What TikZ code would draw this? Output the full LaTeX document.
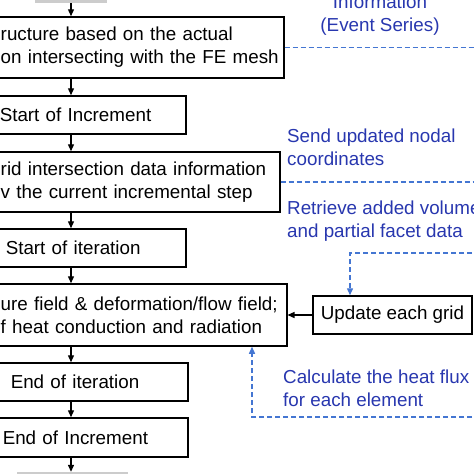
\documentclass[tikz,border=0pt]{standalone}
\usepackage{fontspec}
\setmainfont{Liberation Sans}
\usetikzlibrary{positioning, arrows.meta}
\definecolor{infoblue}{RGB}{40,55,175}
\definecolor{dashblue}{RGB}{68,118,210}
\newcommand\flowfont{\fontsize{18.8}{22.8}\selectfont}

\begin{document}
\begin{tikzpicture}[x=1pt, y=-1pt,
    every node/.style={font=\flowfont},
    box/.style={rectangle, draw, line width=1.5pt, anchor=west, align=left, inner xsep=8pt, inner ysep=2pt},
    grey/.style={rectangle, fill=black!20, inner sep=0pt},
    note/.style={text=infoblue, align=left, anchor=west, inner sep=0pt},
    flow/.style={-{Triangle[length=7pt, width=6pt]}, line width=1.3pt},
    link/.style={dashblue, line width=1.4pt, dash pattern=on 5pt off 3pt},
    linkarrow/.style={link, -{Triangle[length=7pt, width=6pt]}}]

  \useasboundingbox (0,0) rectangle (474,474);
  \fill[white] (0,0) rectangle (474,474);
  \clip (0,0) rectangle (474,474);

  % main loop, cut off at the left
  \node[grey, minimum width=72pt, minimum height=23pt] (topg) at (71,-8.5) {};
  \node[box, text width=275pt, minimum height=61pt] (b1) at (-8,47.5) {\mbox{ructure based on the actual}\\\mbox{on intersecting with the FE mesh}};
  \node[box, text width=178pt, minimum height=38pt] (b2) at (-9,115) {Start of Increment};
  \node[box, text width=271pt, minimum height=60pt] (b3) at (-8,182) {\mbox{rid intersection data information}\\\mbox{v the current incremental step}};
  \node[box, text width=172pt, minimum height=38pt] (b4) at (-3,248) {Start of iteration};
  \node[box, text width=278pt, minimum height=62pt] (b5) at (-8,315) {\mbox{ure field \& deformation/flow field;}\\\mbox{f heat conduction and radiation}};
  \node[box, inner xsep=14pt, text width=163pt, minimum height=38pt] (b6) at (-4,382) {End of iteration};
  \node[box, text width=177pt, minimum height=39pt] (b7) at (-6,437.5) {End of Increment};
  \node[grey, minimum width=111pt, minimum height=28pt] (botg) at (72.5,486) {};

  \node[box, anchor=center, align=center, minimum width=159pt, minimum height=38pt] (upd) at (392.5,315) {Update each grid};

  % blue notes
  \node[note, anchor=center, align=center] (info) at (380,15) {Information\\(Event Series)};
  \node[note] (send) at (287,147) {Send updated nodal\\coordinates};
  \node[note] (retr) at (287,221) {Retrieve added volume\\and partial facet data};
  \node[note] (calc) at (283,388) {Calculate the heat flux\\for each element};

  \coordinate (spine) at (71,0);
  \draw[flow] (topg.south -| spine) -- (b1.north -| spine);
  \draw[flow] (b1.south -| spine) -- (b2.north -| spine);
  \draw[flow] (b2.south -| spine) -- (b3.north -| spine);
  \draw[flow] (b3.south -| spine) -- (b4.north -| spine);
  \draw[flow] (b4.south -| spine) -- (b5.north -| spine);
  \draw[flow] (b5.south -| spine) -- (b6.north -| spine);
  \draw[flow] (b6.south -| spine) -- (b7.north -| spine);
  \draw[flow] (b7.south -| spine) -- (botg.north -| spine);
  \draw[flow] (upd.west) -- (b5.east);

  % dashed exchange lines
  \coordinate (edge) at (480,0);
  \draw[link] (b1.east) -- (b1.east -| edge);
  \draw[link] (b3.east) -- (b3.east -| edge);
  \coordinate (tapin) at (480,253);
  \coordinate (drop) at (350,253);
  \draw[linkarrow] (tapin) -- (drop) -- (drop |- upd.north);
  \coordinate (tapout) at (480,417);
  \coordinate (rise) at (252,417);
  \draw[linkarrow] (tapout) -- (rise) -- (rise |- b5.south);
\end{tikzpicture}
\end{document}
